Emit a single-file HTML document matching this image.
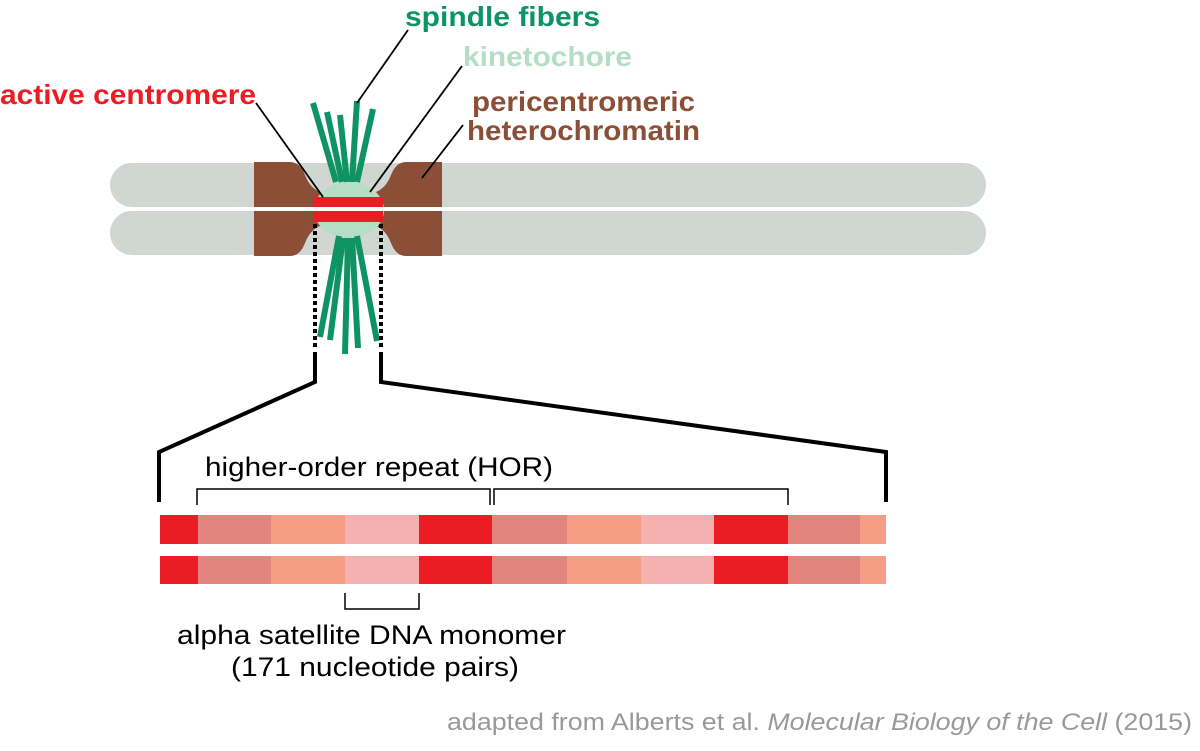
<!DOCTYPE html>
<html><head><meta charset="utf-8"><style>
html,body{margin:0;padding:0;background:#fff;}
svg{display:block;}
text{font-family:"Liberation Sans",Arial,sans-serif;}
</style></head><body>
<svg width="1200" height="751" viewBox="0 0 1200 751" xmlns="http://www.w3.org/2000/svg">
<rect x="110" y="163" width="876" height="44" rx="22" fill="#d0d6d2"/>
<rect x="110" y="211" width="876" height="44" rx="22" fill="#d0d6d2"/>
<path d="M254,162 H290 Q300,162 305,175 Q310,188 320,192 V197 H313 V207 H254 Z" fill="#8b4f38"/>
<path d="M254,211 H313 V222 H320 V226 Q310,230 305,243 Q300,256 290,256 H254 Z" fill="#8b4f38"/>
<path d="M442,162 H406 Q396,162 391,175 Q386,188 376,192 V197 H383 V207 H442 Z" fill="#8b4f38"/>
<path d="M442,211 H383 V222 H376 V226 Q386,230 391,243 Q396,256 406,256 H442 Z" fill="#8b4f38"/>
<ellipse cx="349" cy="210" rx="35" ry="28" fill="#b4dec6"/>
<g stroke="#0e9464" stroke-width="6" stroke-linecap="butt">
<line x1="313" y1="103" x2="336" y2="182"/>
<line x1="327" y1="112" x2="342" y2="182"/>
<line x1="340" y1="115" x2="347" y2="182"/>
<line x1="357" y1="101" x2="352" y2="182"/>
<line x1="373" y1="109" x2="357" y2="182"/>
<line x1="339" y1="236" x2="320" y2="337"/>
<line x1="343" y1="238" x2="330" y2="340"/>
<line x1="348" y1="238" x2="345" y2="354"/>
<line x1="352" y1="238" x2="358" y2="348"/>
<line x1="357" y1="236" x2="377" y2="341"/>
</g>
<rect x="313" y="197" width="70" height="10" fill="#ec1c24"/>
<rect x="313" y="211" width="70" height="11" fill="#ec1c24"/>
<line x1="310" y1="209" x2="386" y2="209" stroke="#fff" stroke-width="4"/>
<g stroke="#000" stroke-width="4">
<line x1="315" y1="224" x2="315" y2="350" stroke-dasharray="4,3"/>
<line x1="381" y1="224" x2="381" y2="350" stroke-dasharray="4,3"/>
</g>
<g stroke="#000" stroke-width="4" fill="none" stroke-linejoin="miter">
<polyline points="315,352 315,382 159,452 159,502"/>
<polyline points="381,352 381,382 886,452 886,502"/>
</g>
<g stroke="#000" stroke-width="1.8">
<line x1="408" y1="30" x2="357" y2="103"/>
<line x1="462" y1="66" x2="370" y2="192"/>
<line x1="256" y1="103" x2="323" y2="197"/>
<line x1="463" y1="125" x2="422" y2="178"/>
</g>
<text x="405" y="26" font-size="28" font-weight="bold" fill="#0e9464" textLength="195" lengthAdjust="spacingAndGlyphs">spindle fibers</text>
<text x="463" y="66" font-size="28" font-weight="bold" fill="#b4dec6" textLength="169" lengthAdjust="spacingAndGlyphs">kinetochore</text>
<text x="0" y="104" font-size="28" font-weight="bold" fill="#ec1c24" textLength="256" lengthAdjust="spacingAndGlyphs">active centromere</text>
<text x="472" y="111" font-size="28" font-weight="bold" fill="#8b4f38" textLength="223" lengthAdjust="spacingAndGlyphs">pericentromeric</text>
<text x="467" y="140" font-size="28" font-weight="bold" fill="#8b4f38" textLength="233" lengthAdjust="spacingAndGlyphs">heterochromatin</text>
<text x="205" y="476" font-size="27" fill="#000" textLength="348" lengthAdjust="spacingAndGlyphs">higher-order repeat (HOR)</text>
<g stroke="#000" stroke-width="1.5" fill="none">
<polyline points="197,505 197,489 490,489 490,505"/>
<polyline points="494,505 494,489 788,489 788,505"/>
<polyline points="345,593 345,609 419,609 419,593"/>
</g>
<g>
<rect x="160" y="515" width="38" height="29" fill="#ec1c24"/>
<rect x="198" y="515" width="73" height="29" fill="#e3857f"/>
<rect x="271" y="515" width="74" height="29" fill="#f59e85"/>
<rect x="345" y="515" width="74" height="29" fill="#f5b0b0"/>
<rect x="419" y="515" width="73" height="29" fill="#ec1c24"/>
<rect x="492" y="515" width="75" height="29" fill="#e3857f"/>
<rect x="567" y="515" width="74" height="29" fill="#f59e85"/>
<rect x="641" y="515" width="73" height="29" fill="#f5b0b0"/>
<rect x="714" y="515" width="74" height="29" fill="#ec1c24"/>
<rect x="788" y="515" width="72" height="29" fill="#e3857f"/>
<rect x="860" y="515" width="26" height="29" fill="#f59e85"/>
</g>
<g transform="translate(0,41)">
<rect x="160" y="515" width="38" height="28" fill="#ec1c24"/>
<rect x="198" y="515" width="73" height="28" fill="#e3857f"/>
<rect x="271" y="515" width="74" height="28" fill="#f59e85"/>
<rect x="345" y="515" width="74" height="28" fill="#f5b0b0"/>
<rect x="419" y="515" width="73" height="28" fill="#ec1c24"/>
<rect x="492" y="515" width="75" height="28" fill="#e3857f"/>
<rect x="567" y="515" width="74" height="28" fill="#f59e85"/>
<rect x="641" y="515" width="73" height="28" fill="#f5b0b0"/>
<rect x="714" y="515" width="74" height="28" fill="#ec1c24"/>
<rect x="788" y="515" width="72" height="28" fill="#e3857f"/>
<rect x="860" y="515" width="26" height="28" fill="#f59e85"/>
</g>
<text x="177" y="644" font-size="27" fill="#000" textLength="389" lengthAdjust="spacingAndGlyphs">alpha satellite DNA monomer</text>
<text x="231" y="676" font-size="27" fill="#000" textLength="288" lengthAdjust="spacingAndGlyphs">(171 nucleotide pairs)</text>
<text x="447" y="730" font-size="24" fill="#999" textLength="745" lengthAdjust="spacingAndGlyphs">adapted from Alberts et al. <tspan font-style="italic">Molecular Biology of the Cell</tspan> (2015)</text>
</svg>
</body></html>
